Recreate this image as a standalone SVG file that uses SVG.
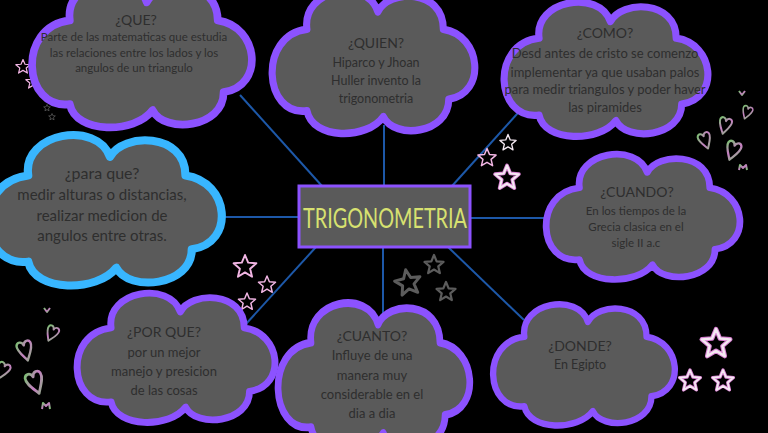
<svg xmlns="http://www.w3.org/2000/svg" width="768" height="433" viewBox="0 0 768 433">
<defs>
<style>
.cloud{fill:#5a5a5a;stroke:#8c52ff;stroke-width:6.5;vector-effect:non-scaling-stroke;stroke-linejoin:round}
.cloud.cyan{stroke:#38b6ff}
.conn line{stroke:#1d58a8;stroke-width:2}
.t{font-family:Lato,"Noto Sans",sans-serif;fill:#2e2e2e;text-anchor:middle}
.h{font-size:14px}
.b{font-size:11.5px}
.star{fill:none;stroke-width:1.6;stroke-linejoin:round;vector-effect:non-scaling-stroke}
.pk{stroke:#f2b6e4}
.wp{stroke:#f4e9f2}
.pkb{stroke:#d67fd0;stroke-width:3}
.gy{stroke:#5c5c5c;stroke-width:2.2}
.heart{fill:none;stroke:url(#hg);stroke-width:2;vector-effect:non-scaling-stroke;stroke-linejoin:round}
</style>
<linearGradient id="hg" x1="0" y1="0" x2="1" y2="1">
<stop offset="0" stop-color="#79c26f"/><stop offset="0.5" stop-color="#c77cc4"/><stop offset="1" stop-color="#79c26f"/>
</linearGradient>
<path id="cl" d="M40 40C35 5 95 -5 105 25C115 5 165 5 165 40C200 45 205 95 170 100C170 130 120 135 110 115C95 135 45 135 40 110C0 115 -5 45 40 40Z"/>
<path id="st" d="M0 -10L2.645 -3.64L9.511 -3.09L4.28 1.39L5.878 8.09L0 4.5L-5.878 8.09L-4.28 1.39L-9.511 -3.09L-2.645 -3.64Z"/>
<path id="hr" d="M0 9C-3 4 -7 -1 -6 -5C-5 -8 -1 -8 0 -4C1 -8 5 -8 6 -5C7 -1 3 4 0 9Z"/>
</defs>
<rect width="768" height="433" fill="#000"/>

<g id="connectors" class="conn">
<line x1="240" y1="95" x2="322" y2="186"/>
<line x1="384" y1="125" x2="384" y2="186"/>
<line x1="452" y1="186" x2="526" y2="104"/>
<line x1="215" y1="217" x2="299" y2="217"/>
<line x1="470" y1="218" x2="550" y2="218"/>
<line x1="316" y1="247" x2="245" y2="325"/>
<line x1="383" y1="247" x2="383" y2="322"/>
<line x1="448" y1="247" x2="524" y2="320"/>
</g>

<g id="decor">
<use href="#st" class="star pk" transform="translate(23,67) scale(0.75)"/>
<use href="#st" class="star pk" transform="translate(48,69) scale(0.95)"/>
<use href="#st" class="star pk" transform="translate(33,82) scale(0.75)"/>
<use href="#st" class="star gy" transform="translate(47,108) scale(0.35)"/>
<use href="#st" class="star gy" transform="translate(52,117) scale(0.35)"/>
<use href="#st" class="star pk" transform="translate(487,158) scale(0.95)"/>
<use href="#st" class="star wp" transform="translate(508,143) scale(0.85)"/>
<use href="#st" class="star pkb" transform="translate(507,178) scale(1.25)"/>
<use href="#st" class="star wp" transform="translate(507,178) scale(1.25)"/>
<use href="#st" class="star pk" transform="translate(245,267) scale(1.2)"/>
<use href="#st" class="star pk" transform="translate(267,285) scale(0.9)"/>
<use href="#st" class="star pk" transform="translate(247,302) scale(0.9)"/>
<use href="#st" class="star gy" transform="translate(408,283) rotate(-10) scale(1.35)"/>
<use href="#st" class="star gy" transform="translate(434,265) scale(1)"/>
<use href="#st" class="star gy" transform="translate(446,292) scale(1)"/>
<use href="#st" class="star pkb" transform="translate(716,344) scale(1.5)"/>
<use href="#st" class="star pkb" transform="translate(690,381) scale(1.1)"/>
<use href="#st" class="star pkb" transform="translate(723,381) scale(1.1)"/>
<use href="#st" class="star wp" transform="translate(716,344) scale(1.5)"/>
<use href="#st" class="star wp" transform="translate(690,381) scale(1.1)"/>
<use href="#st" class="star wp" transform="translate(723,381) scale(1.1)"/>
<use href="#hr" class="heart" transform="translate(747,112) rotate(20) scale(0.8)"/>
<use href="#hr" class="heart" transform="translate(725,125) rotate(15) scale(1)"/>
<use href="#hr" class="heart" transform="translate(705,140) rotate(-20) scale(1)"/>
<use href="#hr" class="heart" transform="translate(733,150) rotate(20) scale(1.15)"/>
<path class="heart" d="M739 91L742 95L745 91"/>
<path class="heart" d="M739 170L740 165L743 168L746 165L747 170"/>
<use href="#hr" class="heart" transform="translate(52,333) rotate(25) scale(0.95)"/>
<use href="#hr" class="heart" transform="translate(25,350) rotate(-15) scale(1.2)"/>
<use href="#hr" class="heart" transform="translate(3,370) rotate(25) scale(1)"/>
<use href="#hr" class="heart" transform="translate(35,382) rotate(-20) scale(1.35)"/>
<path class="heart" d="M44 308L47 312L50 308"/>
<path class="heart" d="M42 409L43 403L46 406L49 403L50 409"/>
</g>

<g id="node-que">
<use href="#cl" class="cloud" transform="translate(22.5,-27.6) scale(1.183,1.198)"/>
<text class="t h" x="136" y="25">¿QUE?</text>
<text class="t b" x="134" y="41">Parte de las matematicas que estudia</text>
<text class="t b" x="134" y="57">las relaciones entre los lados y los</text>
<text class="t b" x="134" y="72">angulos de un triangulo</text>
</g>

<g id="node-quien">
<use href="#cl" class="cloud" transform="translate(263.3,-17.3) scale(1.091,1.165)"/>
<text class="t h" x="376" y="48">¿QUIEN?</text>
<text class="t b" x="376" y="67" style="font-size:12.5px">Hiparco y Jhoan</text>
<text class="t b" x="376" y="85" style="font-size:12.5px">Huller invento la</text>
<text class="t b" x="376" y="103" style="font-size:12.5px">trigonometria</text>
</g>

<g id="node-como">
<use href="#cl" class="cloud" transform="translate(495.2,-5.8) scale(1.097,1.099)"/>
<text class="t h" x="605" y="38">¿COMO?</text>
<text class="t b" x="605" y="58" style="font-size:13px">Desd antes de cristo se comenzo</text>
<text class="t b" x="605" y="77" style="font-size:13px">implementar ya que usaban palos</text>
<text class="t b" x="605" y="94" style="font-size:13px">para medir triangulos y poder haver</text>
<text class="t b" x="605" y="112" style="font-size:13px">las piramides</text>
</g>

<g id="node-paraque">
<use href="#cl" class="cloud cyan" transform="translate(-22.1,126.2) scale(1.258,1.231)"/>
<text class="t" x="102" y="179" style="font-size:16px">¿para que?</text>
<text class="t" x="102" y="200" style="font-size:15px">medir alturas o distancias,</text>
<text class="t" x="102" y="221" style="font-size:15px">realizar medicion de</text>
<text class="t" x="102" y="241" style="font-size:15px">angulos entre otras.</text>
</g>

<g id="node-cuando">
<use href="#cl" class="cloud" transform="translate(537.7,146.8) scale(1.043,1.025)"/>
<text class="t h" x="637" y="197">¿CUANDO?</text>
<text class="t b" x="636" y="215">En los tiempos de la</text>
<text class="t b" x="636" y="231">Grecia clasica en el</text>
<text class="t b" x="636" y="247">sigle II a.c</text>
</g>

<g id="node-porque">
<use href="#cl" class="cloud" transform="translate(68.5,285.5) scale(1.065,1.058)"/>
<text class="t h" x="164" y="337">¿POR QUE?</text>
<text class="t" x="164" y="357" style="font-size:13px">por un mejor</text>
<text class="t" x="164" y="376" style="font-size:13px">manejo y presicion</text>
<text class="t" x="164" y="395" style="font-size:13px">de las cosas</text>
</g>

<g id="node-cuanto">
<use href="#cl" class="cloud" transform="translate(269.7,294.3) scale(1.032,1.207)"/>
<text class="t h" x="372" y="341">¿CUANTO?</text>
<text class="t" x="372" y="360" style="font-size:13px">Influye de una</text>
<text class="t" x="372" y="380" style="font-size:13px">manera muy</text>
<text class="t" x="372" y="399" style="font-size:13px">considerable en el</text>
<text class="t" x="372" y="418" style="font-size:13px">dia a dia</text>
</g>

<g id="node-donde">
<use href="#cl" class="cloud" transform="translate(485.2,297.1) scale(0.978,0.992)"/>
<text class="t h" x="580" y="351">¿DONDE?</text>
<text class="t b" x="580" y="369" style="font-size:12.5px">En Egipto</text>
</g>

<g id="node-center">
<rect x="299" y="186" width="171" height="61" fill="#5a5a5a" stroke="#8c52ff" stroke-width="3"/>
<text x="385" y="228" font-family="Lato,'Noto Sans',sans-serif" font-size="27" fill="#d7e170" text-anchor="middle" textLength="164" lengthAdjust="spacingAndGlyphs">TRIGONOMETRIA</text>
</g>
</svg>
